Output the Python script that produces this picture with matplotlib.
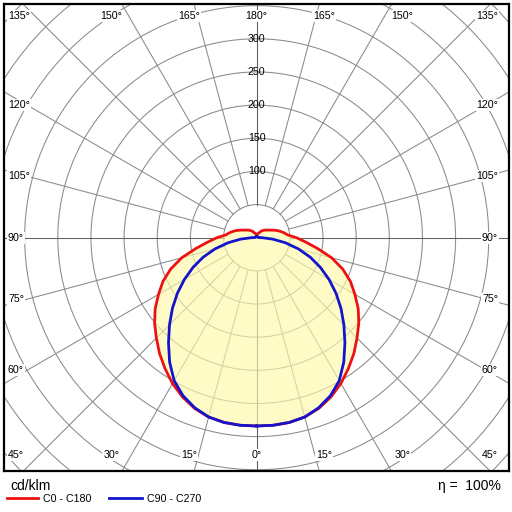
import numpy as np
import matplotlib.pyplot as plt
from matplotlib.patches import Circle
from matplotlib.lines import Line2D

plt.rcParams['font.family'] = ['Liberation Sans', 'DejaVu Sans']

# luminous intensity in cd/klm, gamma measured from nadir
gamma = np.arange(0, 181, 5)
c0_c180 = [284, 284, 283, 280, 274, 265, 254, 241, 228, 214, 201, 187, 171,
           156, 138, 117, 93, 74, 60, 47, 42, 37, 32, 27, 23, 20, 18, 16,
           14, 12, 10, 8, 7, 6, 5, 4, 4]
c90_c270 = [284, 284, 283, 280, 273, 263, 249, 229, 207, 186, 166, 146, 126,
            106, 86, 65, 44, 24, 8, 3, 2, 2, 2, 2, 2, 2, 2, 2,
            2, 2, 2, 2, 2, 2, 2, 2, 2]
rings = np.arange(50, 601, 50)
ring_labels = [100, 150, 200, 250, 300]
angle_ticks = np.arange(0, 181, 15)
eta = 100

# picture geometry (pixels)
px_per_unit = 0.663
cx, cy = 256.7, 237.7
frame = (4, 4, 509, 471)   # left, top, right, bottom

fig = plt.figure(figsize=(5.12, 5.12), dpi=100)
fl, ft, fr, fb = frame
ax = fig.add_axes([fl / 512, 1 - fb / 512, (fr - fl) / 512, (fb - ft) / 512])
xmin, xmax = (fl - cx) / px_per_unit, (fr - cx) / px_per_unit
ymin, ymax = -(fb - cy) / px_per_unit, (cy - ft) / px_per_unit
ax.set_xlim(xmin, xmax)
ax.set_ylim(ymin, ymax)
ax.set_xticks([])
ax.set_yticks([])
for s in ax.spines.values():
    s.set_linewidth(1.6)
    s.set_color('black')

grid_col = '#8a8a8a'
for r in rings:
    ax.add_patch(Circle((0, 0), r, fill=False, color=grid_col, lw=0.75, zorder=1))
for a in angle_ticks:
    g = np.radians(a)
    for side in (1, -1):
        col = '#606060' if a in (0, 90, 180) else grid_col
        ax.plot([side * 50 * np.sin(g), side * 700 * np.sin(g)],
                [-50 * np.cos(g), -700 * np.cos(g)], color=col, lw=0.75, zorder=1)

# curves
g = np.radians(gamma)
red = np.array(c0_c180, dtype=float)
blue = np.array(c90_c270, dtype=float)


def closed(vals):
    xs = np.concatenate([vals * np.sin(g), -(vals * np.sin(g))[::-1]])
    ys = np.concatenate([-vals * np.cos(g), (-vals * np.cos(g))[::-1]])
    return xs, ys


env = np.maximum(red, blue)
ex, ey = closed(env)
ax.fill(ex, ey, color='#fffaaa', alpha=0.65, lw=0, zorder=2)
rx, ry = closed(red)
ax.plot(rx, ry, color='#ee1111', lw=2.0, zorder=4)
bx, by = closed(blue)
ax.plot(bx, by, color='#1414cc', lw=2.0, zorder=5)

# ring labels
for v in ring_labels:
    ax.text(0, v, str(v), ha='center', va='center', fontsize=7.7, zorder=6)

# angle labels
lab_top = (cy - 16) / px_per_unit
lab_bot = -(455 - cy) / px_per_unit
lab_left = (8 - cx) / px_per_unit
lab_right = (498 - cx) / px_per_unit
bb = dict(facecolor='white', edgecolor='none', pad=0.8)
for a in angle_ticks:
    sides = (1,) if a in (0, 180) else (1, -1)
    for side in sides:
        t = f'{a}°'
        ha = 'center'
        if a < 45:
            x = side * 1.08 * (-ymin) * np.tan(np.radians(a))
            y = lab_bot
        elif a == 45 or a == 135:
            x = lab_right if side > 0 else lab_left
            ha = 'right' if side > 0 else 'left'
            y = lab_bot if a == 45 else lab_top
        elif a < 135:
            x = lab_right if side > 0 else lab_left
            ha = 'right' if side > 0 else 'left'
            y = -0.91 * xmax * np.cos(np.radians(a)) / np.sin(np.radians(a))
        else:
            x = side * 1.08 * ymax * np.tan(np.radians(180 - a))
            y = lab_top
        ax.text(x, y, t, ha=ha, va='center', fontsize=7.7, bbox=bb, zorder=7)

# footer
fig.text(10 / 512, 1 - 486 / 512, 'cd/klm', fontsize=10, va='center')
fig.text(501 / 512, 1 - 486 / 512, f'η =  {eta}%', fontsize=10, va='center', ha='right')
ly = 1 - 497.5 / 512
fig.add_artist(Line2D([7 / 512, 38 / 512], [ly, ly], color='#ee1111', lw=2.0))
fig.add_artist(Line2D([109 / 512, 142 / 512], [ly, ly], color='#1414cc', lw=2.0))
fig.text(43 / 512, 1 - 499 / 512, 'C0 - C180', fontsize=7.7, va='center')
fig.text(147 / 512, 1 - 499 / 512, 'C90 - C270', fontsize=7.7, va='center')

fig.savefig('out.png', dpi=100)
